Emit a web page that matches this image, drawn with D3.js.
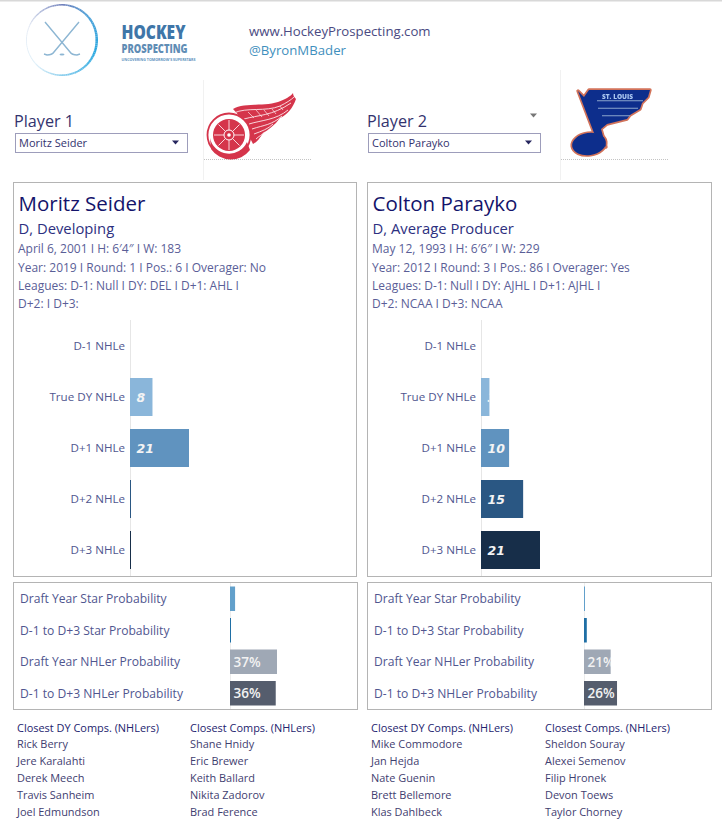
<!DOCTYPE html>
<html><head><meta charset="utf-8">
<script src="https://cdn.jsdelivr.net/npm/d3@7"></script>
<style>html,body{margin:0;padding:0;background:#fff}svg{display:block}text{font-family:"Open Sans","Noto Sans",sans-serif}</style>
</head><body><svg id="c" width="722" height="828"></svg>
<script>
const nhleCategories = ["D-1 NHLe","True DY NHLe","D+1 NHLe","D+2 NHLe","D+3 NHLe"];
const nhleColors = ["#8fbbdc","#8ab6da","#6093bf","#2a5783","#172e49"];
const seiderNhle = [0,8,21,0.3,0.3];
const paraykoNhle = [0,3,10,15,21];
const seiderNhleLabels = ["","8","21","",""];
const paraykoNhleLabels = ["","3","10","15","21"];
const probCategories = ["Draft Year Star Probability","D-1 to D+3 Star Probability","Draft Year NHLer Probability","D-1 to D+3 NHLer Probability"];
const probColors = ["#62a0cb","#1f6fa5","#9fa8b5","#555d6d"];
const seiderProb = [4,0.5,37,36];
const paraykoProb = [0.4,2.2,21,26];
const seiderProbLabels = ["","","37%","36%"];
const paraykoProbLabels = ["","","21%","26%"];
const seiderInfo = ["Moritz Seider","D, Developing","April 6, 2001 I H: 6\u20324\u2033 I W: 183","Year: 2019 I Round: 1 I Pos.: 6 I Overager: No","Leagues: D-1: Null I DY: DEL I D+1: AHL I","D+2:  I D+3:"];
const paraykoInfo = ["Colton Parayko","D, Average Producer","May 12, 1993 I H: 6\u20326\u2033 I W: 229","Year: 2012 I Round: 3 I Pos.: 86 I Overager: Yes","Leagues: D-1: Null I DY: AJHL I D+1: AJHL I","D+2: NCAA I D+3: NCAA"];
const compHeaders = ["Closest DY Comps. (NHLers)","Closest Comps. (NHLers)"];
const seiderDyComps = ["Rick Berry","Jere Karalahti","Derek Meech","Travis Sanheim","Joel Edmundson"];
const seiderComps = ["Shane Hnidy","Eric Brewer","Keith Ballard","Nikita Zadorov","Brad Ference"];
const paraykoDyComps = ["Mike Commodore","Jan Hejda","Nate Guenin","Brett Bellemore","Klas Dahlbeck"];
const paraykoComps = ["Sheldon Souray","Alexei Semenov","Filip Hronek","Devon Toews","Taylor Chorney"];

const svg = d3.select("#c");
const defs = svg.append("defs");
defs.append("filter").attr("id","soft").append("feGaussianBlur").attr("stdDeviation",.35);
const NAVY="#14146b", MID="#2d3080", SOFT="#5a5e97", LAB="#50568f";
function txt(g,x,y,s,size,fill,extra={}){
  const t=g.append("text").attr("x",x).attr("y",y).attr("font-size",size).attr("fill",fill).text(s);
  Object.entries(extra).forEach(([k,v])=>t.attr(k,v));return t;
}
svg.append("rect").attr("x",0).attr("y",0).attr("width",722).attr("height",1.5).attr("fill","#d8d8d8");

// Hockey Prospecting logo: ring drawn as short arc pieces so it can fade
const logo=svg.append("g").attr("filter","url(#soft)");
const ringColor=d3.scaleLinear().domain([0,.12,.3,.5,.62,.8,1]).range(["#6f7fbb","#4fa0d8","#2aa8e0","#8fd0ee","#dceef8","#e9eef6","#6f7fbb"]);
const ringWidth=d3.scaleLinear().domain([0,.25,.5,.7,1]).range([1.6,2.6,1.6,.8,1.6]);
d3.range(120).forEach(i=>{
  const f=i/120;
  logo.append("path").attr("transform","translate(62,40)")
    .attr("d",d3.arc().innerRadius(36-ringWidth(f)).outerRadius(36).startAngle(f*2*Math.PI).endAngle((f+1/115)*2*Math.PI)())
    .attr("fill",ringColor(f));
});
logo.append("path").attr("d","M45 22 L70 52 Q72 55 77 55 L80 54 M79 22 L54 52 Q52 55 47 55 L44 54").attr("fill","none").attr("stroke","#8db6d3").attr("stroke-width",1.4);
logo.append("ellipse").attr("cx",62).attr("cy",54.5).attr("rx",2.5).attr("ry",1).attr("fill","#8db6d3");
const cond={"font-weight":800,"lengthAdjust":"spacingAndGlyphs"};
txt(svg,121.5,39,"HOCKEY",19.5,"#3f76a8",{...cond,"textLength":64});
txt(svg,121.5,52.5,"PROSPECTING",12.5,"#5f8db5",{...cond,"textLength":66});
txt(svg,121.5,61,"UNCOVERING TOMORROW'S SUPERSTARS",3.6,"#5d92be",{"font-weight":700,"lengthAdjust":"spacingAndGlyphs","textLength":74});
txt(svg,249,36,"www.HockeyProspecting.com",13.2,"#4a4a82");
txt(svg,249,55,"@ByronMBader",13.2,"#3f8fbd");

// selectors
function selector(x,label,name,w){
  txt(svg,x-1,127,label,16.2,"#33336e");
  svg.append("rect").attr("x",x+.5).attr("y",133.5).attr("width",w).attr("height",19).attr("fill","#fff").attr("stroke","#9d9dbb");
  txt(svg,x+4,147,name,11,"#33336e");
  svg.append("path").attr("d",`M${x+157} 140.5h7l-3.5 4z`).attr("fill","#26265e");
}
selector(15,"Player 1","Moritz Seider",172);
selector(368,"Player 2","Colton Parayko",172);
svg.append("path").attr("d","M530 113.5h7l-3.5 4z").attr("fill","#777");

// faint image frames + dotted lines
[[203,80,108,100],[560,70,110,110]].forEach(([x,y,w,h])=>{
  svg.append("path").attr("d",`M${x+.5} ${y}V${y+h}`).attr("stroke","#f1f1f1");
  svg.append("path").attr("d",`M${x+1} 159.5H${x+108}`).attr("stroke","#c4c4c4").attr("stroke-dasharray","1 1");
});

// Red Wings logo
const rw=svg.append("g").attr("filter","url(#soft)");
const RED="#d5354c";
rw.append("path").attr("d","M233 109 C243 102 263 107 278 102 C285 99 290 97 293 93 C293 96 295 98 296 99 C293 108 287 115 280 118 C275 125 268 130 263 133 C260 138 257 142 253 144 L250 138 C247 128 242 118 233 109Z").attr("fill",RED);
rw.append("path").attr("d","M234 113 C246 107 266 112 280 106 C286 103 291 100 294 97 M244 119 C258 115 272 116 291 103 M249 124 C262 120 276 120 288 110 M252 129 C264 125 272 125 282 116 M254 134 C262 131 268 129 273 124 M256 139 C259 136 262 135 265 132").attr("fill","none").attr("stroke","#fde6ea").attr("stroke-width",.9);
rw.append("path").attr("d","M248 112 l6 6 M256 110 l6 7 M264 110 l5 6 M272 109 l4 5 M280 106 l3 4").attr("stroke","#fde6ea").attr("stroke-width",.7);
rw.append("circle").attr("cx",229).attr("cy",135).attr("r",21.5).attr("fill","#fff").attr("stroke",RED).attr("stroke-width",1.8);
rw.append("path").attr("d","M210 138 A19.5 19.5 0 0 0 247 142 L250 150 A24 24 0 0 1 211 149Z").attr("fill",RED);
rw.append("circle").attr("cx",229).attr("cy",135).attr("r",16).attr("fill",RED);
rw.append("path").attr("d","M229 120V150 M214 135H244 M218.5 124.5L239.5 145.5 M239.5 124.5L218.5 145.5").attr("stroke","#fde6ea").attr("stroke-width",.9);
rw.append("circle").attr("cx",229).attr("cy",135).attr("r",5).attr("fill",RED).attr("stroke","#fff").attr("stroke-width",1);
rw.append("circle").attr("cx",229).attr("cy",135).attr("r",1.8).attr("fill","#fff");

// Blues logo
const bl=svg.append("g").attr("filter","url(#soft)");
const ORG="#d2735a",BLU="#0f2f8c";
const noteD="M578 91 L584 97 L589 90 H650 L648 97 L642 103 L640 109 L630 115 L627 119 L615 122 L607 124 L601 129 L604 140 L606 147 L594 133Z";
const note=g=>g.append("path").attr("d",noteD);
const head=g=>g.append("ellipse").attr("cx",589).attr("cy",144).attr("rx",17).attr("ry",11).attr("transform","rotate(-8 589 144)");
[note,head].forEach(f=>f(bl).attr("fill",ORG).attr("stroke",ORG).attr("stroke-width",3.4).attr("stroke-linejoin","round"));
bl.append("path").attr("d",noteD).attr("fill",BLU);
head(bl).attr("fill",BLU);
bl.append("path").attr("d","M597 100.7H643 M598 108.3H638 M602 115.7H630").attr("stroke","#8ba5cc").attr("stroke-width",1.1);
txt(bl,602,99,"ST. LOUIS",6.5,"#a9c6f0",{"font-weight":800,"textLength":31,"lengthAdjust":"spacingAndGlyphs"});

// player panels
function panel(px,pw,info,nhle,nlabels,axisX,prob,plabels,probX,labelX){
  svg.append("rect").attr("x",px+.5).attr("y",182.5).attr("width",pw).attr("height",394).attr("fill","none").attr("stroke","#b4b4b4");
  txt(svg,px+5.5,211,info[0],20.5,NAVY);
  txt(svg,px+5.5,234,info[1],14.8,MID);
  [253,272,290,308].forEach((y,i)=>txt(svg,px+5,y,info[i+2],12,SOFT));

  const x=d3.scaleLinear().domain([0,21]).range([axisX,axisX+59]);
  const y=d3.scaleBand().domain(nhleCategories).range([320.5,575.5]).paddingInner(13/51).paddingOuter(6.5/51);
  const gA=svg.append("g").attr("transform",`translate(${axisX},0)`).call(d3.axisLeft(y).tickSize(0).tickPadding(5));
  gA.select(".domain").attr("stroke","#e6e6e6").attr("d","M0.5 320V576");
  gA.selectAll("text").attr("font-size",11.6).attr("fill",LAB).style("font-family","'Open Sans',sans-serif");
  nhleCategories.forEach((c,i)=>{
    if(nhle[i]<=0)return;
    const id="clip"+axisX+i,w=x(nhle[i])-x(0);
    defs.append("clipPath").attr("id",id).append("rect").attr("x",axisX).attr("y",y(c)).attr("width",w).attr("height",y.bandwidth());
    svg.append("rect").attr("x",axisX).attr("y",y(c)).attr("width",Math.max(w,1)).attr("height",y.bandwidth()).attr("fill",nhleColors[i]);
    txt(svg,axisX+6.5,y(c)+y.bandwidth()/2+5,nlabels[i],12.5,"#f4f4f4",{"font-style":"italic","font-weight":700,"clip-path":`url(#${id})`}).style("font-family","'DejaVu Sans'");
  });

  svg.append("rect").attr("x",px+.5).attr("y",582.5).attr("width",344).attr("height",127).attr("fill","none").attr("stroke","#b4b4b4");
  const px2=d3.scaleLinear().domain([0,37]).range([probX,probX+47]);
  const py=d3.scaleBand().domain(probCategories).range([583,709]).paddingInner(7/31.5).paddingOuter(3.5/31.5);
  svg.append("path").attr("d",`M${probX+.5} 583V709`).attr("stroke","#ececec");
  probCategories.forEach((c,i)=>{
    txt(svg,labelX,py(c)+py.bandwidth()/2+4.5,c,12.1,LAB);
    const w=Math.max(px2(prob[i])-px2(0),1),id="pc"+probX+i;
    defs.append("clipPath").attr("id",id).append("rect").attr("x",probX).attr("y",py(c)).attr("width",w).attr("height",py.bandwidth());
    svg.append("rect").attr("x",probX).attr("y",py(c)).attr("width",w).attr("height",py.bandwidth()).attr("fill",probColors[i]);
    txt(svg,probX+3.5,py(c)+py.bandwidth()/2+5,plabels[i],13.5,"#f2f2f2",{"font-weight":600,"clip-path":`url(#${id})`});
  });
}
panel(13,343,seiderInfo,seiderNhle,seiderNhleLabels,130,seiderProb,seiderProbLabels,230,20);
panel(367,344,paraykoInfo,paraykoNhle,paraykoNhleLabels,481,paraykoProb,paraykoProbLabels,584,374);

// comps
function comps(x,head,list){
  txt(svg,x,732,head,10.95,"#23236e");
  list.forEach((n,i)=>txt(svg,x,748+i*17,n,10.95,"#3f4070"));
}
comps(17,compHeaders[0],seiderDyComps);
comps(190,compHeaders[1],seiderComps);
comps(371,compHeaders[0],paraykoDyComps);
comps(545,compHeaders[1],paraykoComps);
</script></body></html>
